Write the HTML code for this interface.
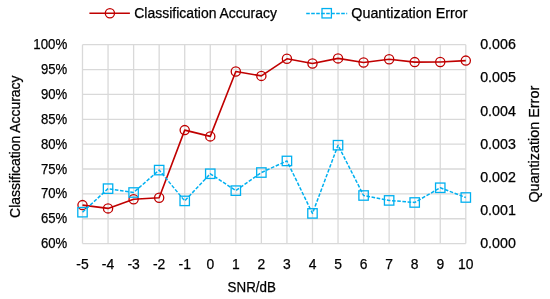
<!DOCTYPE html><html><head><meta charset="utf-8"><title>Chart</title><style>html,body{margin:0;padding:0;background:#fff;width:550px;height:299px;overflow:hidden}svg{display:block}text{font-family:'Liberation Sans', Arial, sans-serif;fill:#000000;stroke:#000000;stroke-width:0.25px}</style></head><body>
<svg width="550" height="299" viewBox="0 0 550 299">
<rect width="550" height="299" fill="#fff"/>
<path d="M82.50 44.70V243.60M108.05 44.70V243.60M133.61 44.70V243.60M159.16 44.70V243.60M184.71 44.70V243.60M210.27 44.70V243.60M235.82 44.70V243.60M261.37 44.70V243.60M286.93 44.70V243.60M312.48 44.70V243.60M338.03 44.70V243.60M363.59 44.70V243.60M389.14 44.70V243.60M414.69 44.70V243.60M440.25 44.70V243.60M465.80 44.70V243.60M82.50 44.70H465.80M82.50 69.56H465.80M82.50 94.42H465.80M82.50 119.29H465.80M82.50 144.15H465.80M82.50 169.01H465.80M82.50 193.88H465.80M82.50 218.74H465.80M82.50 243.60H465.80" stroke="#D9D9D9" stroke-width="1.3" fill="none"/>
<text x="67.3" y="49.20" font-size="14.20" text-anchor="end" textLength="33.98" lengthAdjust="spacingAndGlyphs">100%</text>
<text x="67.3" y="74.06" font-size="14.20" text-anchor="end" textLength="26.27" lengthAdjust="spacingAndGlyphs">95%</text>
<text x="67.3" y="98.92" font-size="14.20" text-anchor="end" textLength="26.27" lengthAdjust="spacingAndGlyphs">90%</text>
<text x="67.3" y="123.79" font-size="14.20" text-anchor="end" textLength="26.27" lengthAdjust="spacingAndGlyphs">85%</text>
<text x="67.3" y="148.65" font-size="14.20" text-anchor="end" textLength="26.27" lengthAdjust="spacingAndGlyphs">80%</text>
<text x="67.3" y="173.51" font-size="14.20" text-anchor="end" textLength="26.27" lengthAdjust="spacingAndGlyphs">75%</text>
<text x="67.3" y="198.38" font-size="14.20" text-anchor="end" textLength="26.27" lengthAdjust="spacingAndGlyphs">70%</text>
<text x="67.3" y="223.24" font-size="14.20" text-anchor="end" textLength="26.27" lengthAdjust="spacingAndGlyphs">65%</text>
<text x="67.3" y="248.10" font-size="14.20" text-anchor="end" textLength="26.27" lengthAdjust="spacingAndGlyphs">60%</text>
<text x="480.2" y="49.20" font-size="14.20" textLength="35.65" lengthAdjust="spacingAndGlyphs">0.006</text>
<text x="480.2" y="82.35" font-size="14.20" textLength="35.65" lengthAdjust="spacingAndGlyphs">0.005</text>
<text x="480.2" y="115.50" font-size="14.20" textLength="35.65" lengthAdjust="spacingAndGlyphs">0.004</text>
<text x="480.2" y="148.65" font-size="14.20" textLength="35.65" lengthAdjust="spacingAndGlyphs">0.003</text>
<text x="480.2" y="181.80" font-size="14.20" textLength="35.65" lengthAdjust="spacingAndGlyphs">0.002</text>
<text x="480.2" y="214.95" font-size="14.20" textLength="35.65" lengthAdjust="spacingAndGlyphs">0.001</text>
<text x="480.2" y="248.10" font-size="14.20" textLength="35.65" lengthAdjust="spacingAndGlyphs">0.000</text>
<text x="82.50" y="268.8" font-size="14.20" text-anchor="middle" textLength="12.36" lengthAdjust="spacingAndGlyphs">-5</text>
<text x="108.05" y="268.8" font-size="14.20" text-anchor="middle" textLength="12.36" lengthAdjust="spacingAndGlyphs">-4</text>
<text x="133.61" y="268.8" font-size="14.20" text-anchor="middle" textLength="12.36" lengthAdjust="spacingAndGlyphs">-3</text>
<text x="159.16" y="268.8" font-size="14.20" text-anchor="middle" textLength="12.36" lengthAdjust="spacingAndGlyphs">-2</text>
<text x="184.71" y="268.8" font-size="14.20" text-anchor="middle" textLength="12.36" lengthAdjust="spacingAndGlyphs">-1</text>
<text x="210.27" y="268.8" font-size="14.20" text-anchor="middle" textLength="7.70" lengthAdjust="spacingAndGlyphs">0</text>
<text x="235.82" y="268.8" font-size="14.20" text-anchor="middle" textLength="7.70" lengthAdjust="spacingAndGlyphs">1</text>
<text x="261.37" y="268.8" font-size="14.20" text-anchor="middle" textLength="7.70" lengthAdjust="spacingAndGlyphs">2</text>
<text x="286.93" y="268.8" font-size="14.20" text-anchor="middle" textLength="7.70" lengthAdjust="spacingAndGlyphs">3</text>
<text x="312.48" y="268.8" font-size="14.20" text-anchor="middle" textLength="7.70" lengthAdjust="spacingAndGlyphs">4</text>
<text x="338.03" y="268.8" font-size="14.20" text-anchor="middle" textLength="7.70" lengthAdjust="spacingAndGlyphs">5</text>
<text x="363.59" y="268.8" font-size="14.20" text-anchor="middle" textLength="7.70" lengthAdjust="spacingAndGlyphs">6</text>
<text x="389.14" y="268.8" font-size="14.20" text-anchor="middle" textLength="7.70" lengthAdjust="spacingAndGlyphs">7</text>
<text x="414.69" y="268.8" font-size="14.20" text-anchor="middle" textLength="7.70" lengthAdjust="spacingAndGlyphs">8</text>
<text x="440.25" y="268.8" font-size="14.20" text-anchor="middle" textLength="7.70" lengthAdjust="spacingAndGlyphs">9</text>
<text x="465.80" y="268.8" font-size="14.20" text-anchor="middle" textLength="15.41" lengthAdjust="spacingAndGlyphs">10</text>
<text x="227.6" y="291.9" font-size="14.00" textLength="48.2" lengthAdjust="spacingAndGlyphs">SNR/dB</text>
<text transform="translate(19.8 217.9) rotate(-90)" x="0" y="0" font-size="14.00" textLength="142.4" lengthAdjust="spacingAndGlyphs">Classification Accuracy</text>
<text transform="translate(539.4 202.6) rotate(-90)" x="0" y="0" font-size="14.00" textLength="116.8" lengthAdjust="spacingAndGlyphs">Quantization Error</text>
<polyline points="82.50,205.10 108.05,208.40 133.61,199.20 159.16,197.80 184.71,130.10 210.27,136.40 235.82,71.50 261.37,75.90 286.93,58.80 312.48,63.50 338.03,58.40 363.59,62.50 389.14,59.20 414.69,62.10 440.25,62.00 465.80,60.60" fill="none" stroke="#C00000" stroke-width="1.60" stroke-linejoin="round"/>
<circle cx="82.50" cy="205.10" r="4.60" fill="none" stroke="#C00000" stroke-width="1.30"/>
<circle cx="108.05" cy="208.40" r="4.60" fill="none" stroke="#C00000" stroke-width="1.30"/>
<circle cx="133.61" cy="199.20" r="4.60" fill="none" stroke="#C00000" stroke-width="1.30"/>
<circle cx="159.16" cy="197.80" r="4.60" fill="none" stroke="#C00000" stroke-width="1.30"/>
<circle cx="184.71" cy="130.10" r="4.60" fill="none" stroke="#C00000" stroke-width="1.30"/>
<circle cx="210.27" cy="136.40" r="4.60" fill="none" stroke="#C00000" stroke-width="1.30"/>
<circle cx="235.82" cy="71.50" r="4.60" fill="none" stroke="#C00000" stroke-width="1.30"/>
<circle cx="261.37" cy="75.90" r="4.60" fill="none" stroke="#C00000" stroke-width="1.30"/>
<circle cx="286.93" cy="58.80" r="4.60" fill="none" stroke="#C00000" stroke-width="1.30"/>
<circle cx="312.48" cy="63.50" r="4.60" fill="none" stroke="#C00000" stroke-width="1.30"/>
<circle cx="338.03" cy="58.40" r="4.60" fill="none" stroke="#C00000" stroke-width="1.30"/>
<circle cx="363.59" cy="62.50" r="4.60" fill="none" stroke="#C00000" stroke-width="1.30"/>
<circle cx="389.14" cy="59.20" r="4.60" fill="none" stroke="#C00000" stroke-width="1.30"/>
<circle cx="414.69" cy="62.10" r="4.60" fill="none" stroke="#C00000" stroke-width="1.30"/>
<circle cx="440.25" cy="62.00" r="4.60" fill="none" stroke="#C00000" stroke-width="1.30"/>
<circle cx="465.80" cy="60.60" r="4.60" fill="none" stroke="#C00000" stroke-width="1.30"/>
<polyline points="82.50,212.20 108.05,188.65 133.61,192.50 159.16,170.10 184.71,200.90 210.27,173.76 235.82,190.64 261.37,172.53 286.93,160.94 312.48,213.40 338.03,145.20 363.59,195.50 389.14,200.42 414.69,202.48 440.25,187.75 465.80,197.50" fill="none" stroke="#00B0F0" stroke-width="1.50" stroke-dasharray="3.6 1.6" stroke-linejoin="round"/>
<rect x="77.80" y="207.50" width="9.40" height="9.40" fill="none" stroke="#00B0F0" stroke-width="1.30"/>
<rect x="103.35" y="183.95" width="9.40" height="9.40" fill="none" stroke="#00B0F0" stroke-width="1.30"/>
<rect x="128.91" y="187.80" width="9.40" height="9.40" fill="none" stroke="#00B0F0" stroke-width="1.30"/>
<rect x="154.46" y="165.40" width="9.40" height="9.40" fill="none" stroke="#00B0F0" stroke-width="1.30"/>
<rect x="180.01" y="196.20" width="9.40" height="9.40" fill="none" stroke="#00B0F0" stroke-width="1.30"/>
<rect x="205.57" y="169.06" width="9.40" height="9.40" fill="none" stroke="#00B0F0" stroke-width="1.30"/>
<rect x="231.12" y="185.94" width="9.40" height="9.40" fill="none" stroke="#00B0F0" stroke-width="1.30"/>
<rect x="256.67" y="167.83" width="9.40" height="9.40" fill="none" stroke="#00B0F0" stroke-width="1.30"/>
<rect x="282.23" y="156.24" width="9.40" height="9.40" fill="none" stroke="#00B0F0" stroke-width="1.30"/>
<rect x="307.78" y="208.70" width="9.40" height="9.40" fill="none" stroke="#00B0F0" stroke-width="1.30"/>
<rect x="333.33" y="140.50" width="9.40" height="9.40" fill="none" stroke="#00B0F0" stroke-width="1.30"/>
<rect x="358.89" y="190.80" width="9.40" height="9.40" fill="none" stroke="#00B0F0" stroke-width="1.30"/>
<rect x="384.44" y="195.72" width="9.40" height="9.40" fill="none" stroke="#00B0F0" stroke-width="1.30"/>
<rect x="409.99" y="197.78" width="9.40" height="9.40" fill="none" stroke="#00B0F0" stroke-width="1.30"/>
<rect x="435.55" y="183.05" width="9.40" height="9.40" fill="none" stroke="#00B0F0" stroke-width="1.30"/>
<rect x="461.10" y="192.80" width="9.40" height="9.40" fill="none" stroke="#00B0F0" stroke-width="1.30"/>
<path d="M89.4 13.3H129.9" stroke="#C00000" stroke-width="1.60"/>
<circle cx="109.9" cy="13.3" r="4.60" fill="none" stroke="#C00000" stroke-width="1.30"/>
<text x="134.3" y="17.8" font-size="14.00" textLength="142.6" lengthAdjust="spacingAndGlyphs">Classification Accuracy</text>
<path d="M306.2 13.4H347.2" stroke="#00B0F0" stroke-width="1.50" stroke-dasharray="3.6 1.4"/>
<rect x="322.00" y="8.55" width="9.40" height="9.40" fill="none" stroke="#00B0F0" stroke-width="1.30"/>
<text x="351.3" y="17.6" font-size="14.00" textLength="116.2" lengthAdjust="spacingAndGlyphs">Quantization Error</text>
</svg></body></html>
